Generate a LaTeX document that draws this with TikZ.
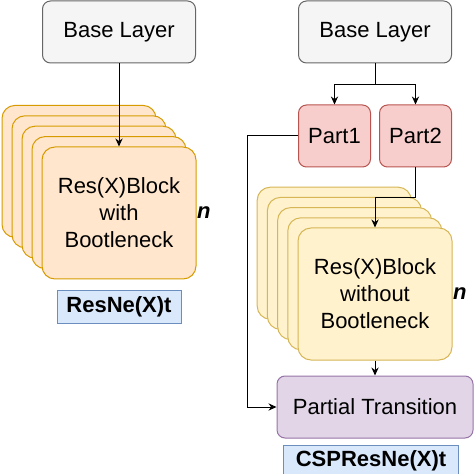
\documentclass[tikz,border=0pt]{standalone}
\usepackage{fontspec}
\setmainfont{Liberation Sans}
\usetikzlibrary{arrows.meta,positioning}

\definecolor{baseFill}{HTML}{F5F5F5}
\definecolor{baseLine}{HTML}{666666}
\definecolor{partFill}{HTML}{F8CECC}
\definecolor{partLine}{HTML}{B85450}
\definecolor{withFill}{HTML}{FFE6CC}
\definecolor{withLine}{HTML}{D79B00}
\definecolor{woFill}{HTML}{FFF2CC}
\definecolor{woLine}{HTML}{D6B656}
\definecolor{transFill}{HTML}{E1D5E7}
\definecolor{transLine}{HTML}{9673A6}
\definecolor{tagFill}{HTML}{DAE8FC}
\definecolor{tagLine}{HTML}{6C8EBF}

\begin{document}
\begin{tikzpicture}[>={Stealth[length=4pt,width=3.6pt]},font=\fontsize{11}{13.5}\selectfont,line width=0.5pt]
  \tikzstyle{base}=[draw=baseLine,fill=baseFill,rounded corners=4pt,minimum width=76.5pt,minimum height=31pt]
  \tikzstyle{part}=[draw=partLine,fill=partFill,rounded corners=4pt,minimum width=36pt,minimum height=31pt,inner sep=1pt]
  \tikzstyle{card}=[rounded corners=6.5pt,align=center,minimum width=77pt,minimum height=66pt]
  \tikzstyle{tag}=[draw=tagLine,fill=tagFill,font=\fontsize{11}{13}\selectfont\bfseries,inner sep=0pt,minimum height=16pt]
  \tikzstyle{rep}=[font=\fontsize{11}{13}\selectfont\bfseries\itshape,inner sep=0pt]
  \useasboundingbox (0,0) rectangle (237pt,-237pt);

  % ResNe(X)t
  \node[base] (base1) at (59.5pt,-16pt) {Base Layer};
  \coordinate[below=41.5pt of base1] (blk1top);
  \foreach \k in {4,3,2,1}
    \node[card,draw=withLine,fill=withFill,anchor=north] at ([shift={(-5pt*\k,5.2pt*\k)}]blk1top) {};
  \node[card,draw=withLine,fill=withFill,anchor=north] (blk1) at (blk1top) {Res(X)Block\\with\\Bootleneck};
  \node[rep,right=0pt of blk1] (n1) {n};
  \node[tag,below=5.5pt of blk1,minimum width=62pt] (resnet) {ResNe(X)t};
  \draw[->] (base1) -- (blk1);

  % CSPResNe(X)t
  \node[base] (base2) at (187.5pt,-16pt) {Base Layer};
  \node[part,anchor=north west] (part1) at ([yshift=-20.5pt]base2.south west) {Part1};
  \node[part,anchor=north east] (part2) at ([yshift=-20.5pt]base2.south east) {Part2};
  \coordinate[below=82pt of base2] (blk2top);
  \foreach \k in {4,3,2,1}
    \node[card,draw=woLine,fill=woFill,anchor=north] at ([shift={(-5.1pt*\k,5.1pt*\k)}]blk2top) {};
  \node[card,draw=woLine,fill=woFill,anchor=north] (blk2) at (blk2top) {Res(X)Block\\without\\Bootleneck};
  \node[rep,right=0pt of blk2] (n2) {n};
  \node[draw=transLine,fill=transFill,rounded corners=4pt,minimum width=98pt,minimum height=31pt,below=7.5pt of blk2] (trans) {Partial Transition};
  \node[tag,below=3pt of trans,xshift=-2pt,minimum width=87.5pt] (csp) {CSPResNe(X)t};

  \coordinate (split) at ([yshift=-10.5pt]base2.south);
  \draw (base2.south) -- (split);
  \draw[->] (split) -| (part1.north);
  \draw[->] (split) -| (part2.north);
  \draw[->] (part1.west) -- ++(-25.5pt,0) |- (trans.west);
  \draw[->] (part2.south) -- ++(0,-15pt) -| (blk2.north);
  \draw[->] (blk2) -- (trans);
\end{tikzpicture}
\end{document}
